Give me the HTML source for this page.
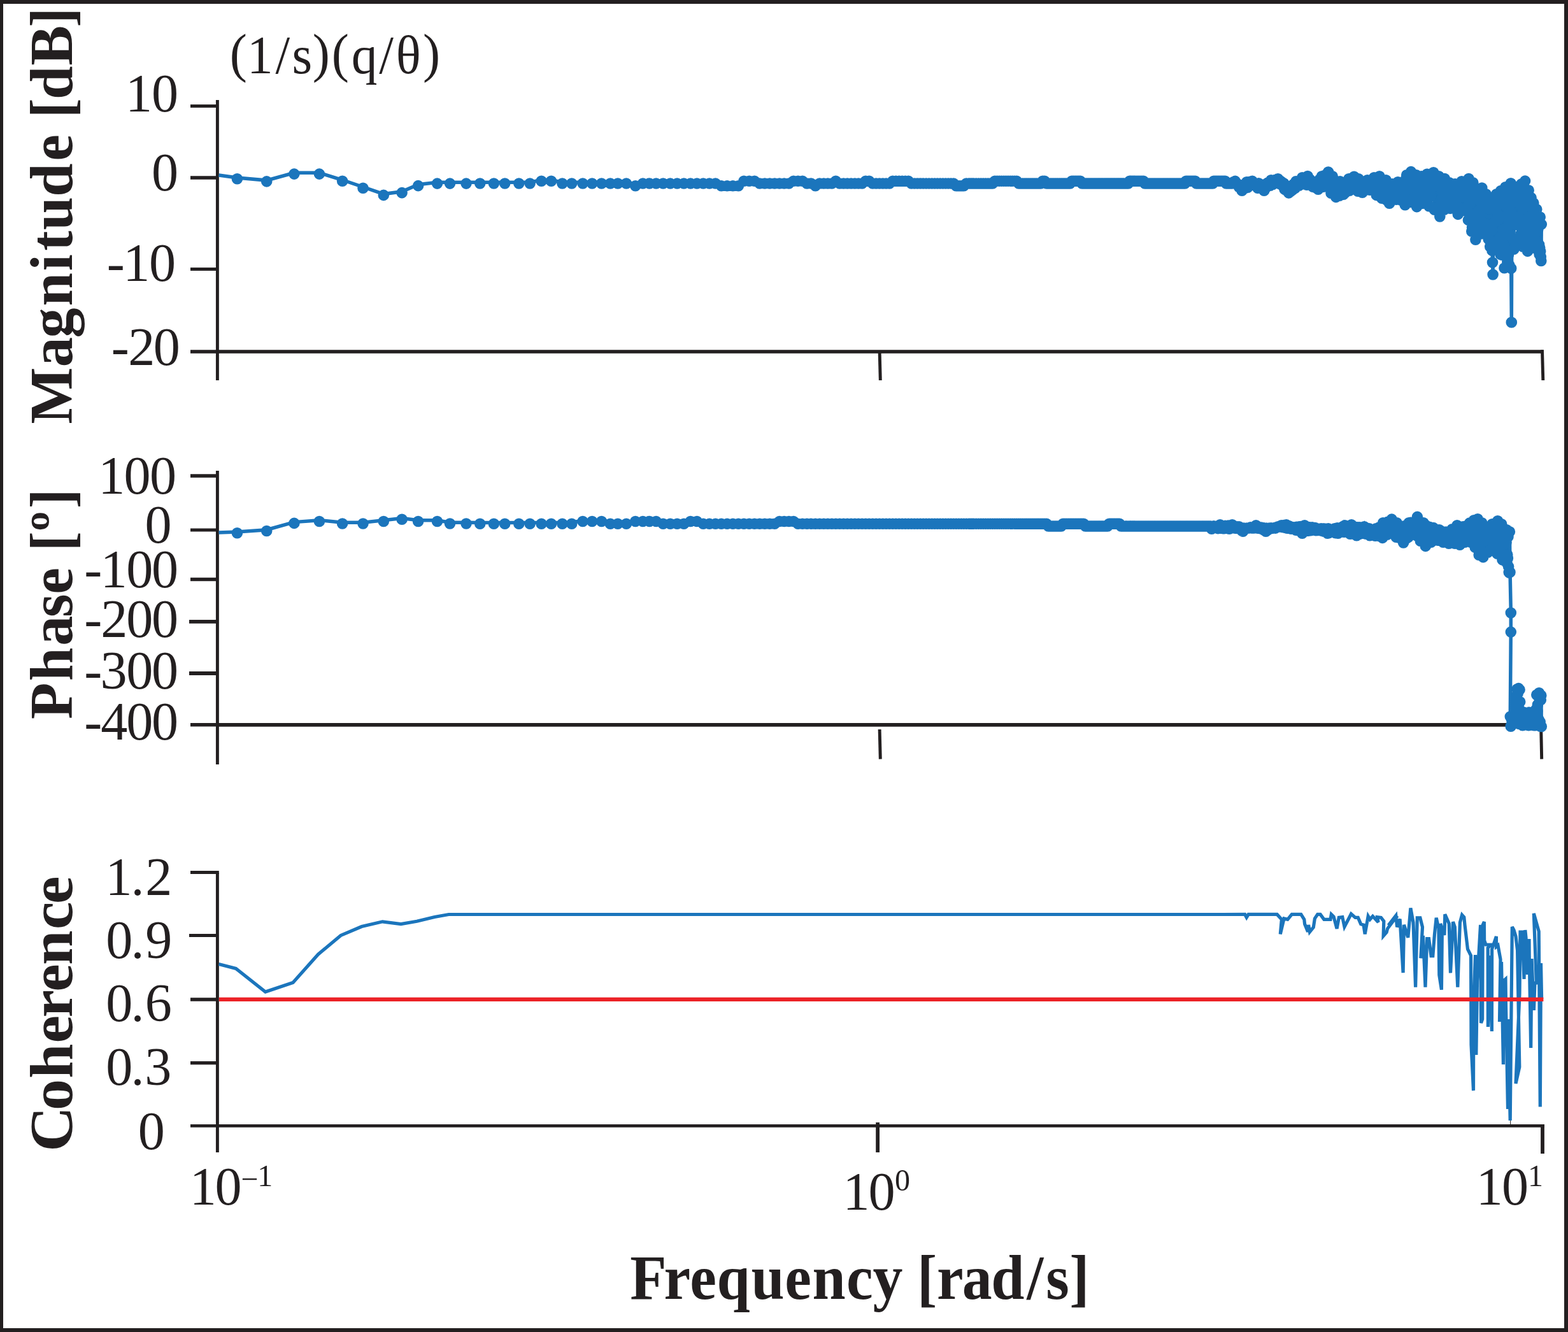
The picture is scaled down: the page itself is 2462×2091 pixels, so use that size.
<!DOCTYPE html>
<html lang="en">
<head>
<meta charset="utf-8">
<title>Frequency response (1/s)(q/θ): magnitude, phase and coherence</title>
<style>
html,body{margin:0;padding:0;background:#fff;}
body{width:2462px;height:2091px;overflow:hidden;}
svg{display:block;}
text{font-family:"Liberation Serif","DejaVu Serif",serif;fill:#231f20;white-space:pre;}
</style>
</head>
<body>
<svg xmlns="http://www.w3.org/2000/svg" width="2462" height="2091" viewBox="0 0 2462 2091">
<rect x="0" y="0" width="2462" height="2091" fill="#fff"/>
<g id="axes">
<line x1="341.4" y1="157" x2="341.4" y2="597" stroke="#231f20" stroke-width="4.9"/>
<line x1="299" y1="166.5" x2="341.4" y2="166.5" stroke="#231f20" stroke-width="4.8"/>
<line x1="299" y1="279" x2="341.4" y2="279" stroke="#231f20" stroke-width="5.6"/>
<line x1="299" y1="422.5" x2="341.4" y2="422.5" stroke="#231f20" stroke-width="5.2"/>
<line x1="299" y1="552" x2="2423.6" y2="552" stroke="#231f20" stroke-width="5.5"/>
<line x1="1381.1" y1="552" x2="1382.3" y2="597" stroke="#231f20" stroke-width="4.9"/>
<line x1="2421.5" y1="549.3" x2="2422.8" y2="597" stroke="#231f20" stroke-width="4.9"/>
<line x1="341.4" y1="739" x2="341.4" y2="1200" stroke="#231f20" stroke-width="4.9"/>
<line x1="299" y1="747" x2="341.4" y2="747" stroke="#231f20" stroke-width="5.6"/>
<line x1="299" y1="832" x2="341.4" y2="832" stroke="#231f20" stroke-width="5.2"/>
<line x1="299" y1="909.5" x2="341.4" y2="909.5" stroke="#231f20" stroke-width="5.6"/>
<line x1="297" y1="975.8" x2="341.4" y2="975.8" stroke="#231f20" stroke-width="5.7"/>
<line x1="297" y1="1057" x2="341.4" y2="1057" stroke="#231f20" stroke-width="5.8"/>
<line x1="299" y1="1137.7" x2="341.4" y2="1137.7" stroke="#231f20" stroke-width="5.4"/>
<line x1="341.4" y1="1137.8" x2="2420" y2="1137.8" stroke="#231f20" stroke-width="5.8"/>
<line x1="1381.1" y1="1145" x2="1382.3" y2="1191.6" stroke="#231f20" stroke-width="4.9"/>
<line x1="2419.6" y1="1140" x2="2420.7" y2="1191.6" stroke="#231f20" stroke-width="4.9"/>
<line x1="341.4" y1="1370" x2="341.4" y2="1809" stroke="#231f20" stroke-width="4.9"/>
<line x1="299" y1="1369.5" x2="343.8" y2="1369.5" stroke="#231f20" stroke-width="4.9"/>
<line x1="297" y1="1468.5" x2="341.4" y2="1468.5" stroke="#231f20" stroke-width="5.1"/>
<line x1="299" y1="1569" x2="341.4" y2="1569" stroke="#231f20" stroke-width="5.6"/>
<line x1="299" y1="1668.6" x2="341.4" y2="1668.6" stroke="#231f20" stroke-width="5.3"/>
<line x1="299" y1="1767.4" x2="2424.9" y2="1767.4" stroke="#231f20" stroke-width="4.8"/>
<line x1="1378.1" y1="1762" x2="1378.1" y2="1809" stroke="#231f20" stroke-width="5.8"/>
<line x1="2422" y1="1765" x2="2422" y2="1811" stroke="#231f20" stroke-width="5.8"/>
<line x1="2371.6" y1="1757" x2="2371.6" y2="1766" stroke="#231f20" stroke-width="1"/>
</g>
<g id="magnitude">
<path d="M343.6 275L372.4 279L418.7 283.1L461.9 271.3L501.4 271.3L537.6 282.5L570 293.5L602.3 304.6L631.1 300.8L656.6 289.8L686.5 286.3L706.5 286.3L732 286.3L753.7 286.2L775.4 286.2L792.7 286.2L814.8 286.2L832.1 286.2L850.1 282.5L865.5 282.5L882.9 286.2L897.7 286.2L915 286.2L929.7 286.2L944.5 286.2L958.3 286.2L970 286.2L983.4 286.2L997.7 290L1009.4 286.2L1019.8 286.2L1030.2 286.2L1041.2 286.2L1052.4 286.2L1063.2 286.2L1073.8 286.2L1084.2 286.2L1094.3 286.2L1104.2 286.2L1113.9 286.2L1123.4 286.2L1132.6 290L1141.7 290L1150.7 290L1159.4 290L1168 282.5L1176.4 282.5L1184.7 282.5L1192.8 286.2L1200.8 286.2L1208.6 286.2L1216.3 286.2L1223.9 286.2L1231.3 286.2L1238.7 286.2L1245.9 282.5L1253 282.5L1260 282.5L1266.9 286.2L1273.6 286.2L1280.3 290L1286.9 286.2L1293.4 286.2L1299.8 286.2L1306.1 286.2L1312.3 282.5L1318.4 286.2L1324.5 286.2L1330.5 286.2L1336.4 286.2L1342.2 286.2L1347.9 286.2L1353.6 286.2L1359.2 282.5L1364.7 282.5L1370.2 286.2L1375.6 286.2L1380.9 286.2L1386.2 286.2L1391.4 286.2L1396.6 286.2L1401.7 282.5L1406.7 282.5L1411.7 282.5L1416.6 282.5L1421.5 282.5L1426.3 282.5L1431.1 286.2L1435.8 286.2L1440.5 286.2L1445.1 286.2L1449.7 286.2L1454.2 286.2L1458.7 286.2L1463.2 286.2L1467.6 286.2L1471.9 286.2L1476.2 286.2L1480.5 286.2L1484.8 286.2L1489 286.2L1493.1 286.2L1497.2 286.2L1501.3 290L1505.4 290L1509.4 290L1513.3 290L1517.3 286.2L1521.2 286.2L1525.1 286.2L1528.9 286.2L1532.7 286.2L1536.5 286.2L1540.2 286.2L1543.9 286.2L1547.6 286.2L1551.3 286.2L1554.9 286.2L1558.5 286.2L1562.1 282.5L1565.6 282.5L1569.1 282.5L1572.6 282.5L1576.1 282.5L1579.5 282.5L1582.9 282.5L1586.3 282.5L1589.6 282.5L1593 282.5L1596.3 282.5L1599.6 286.2L1602.8 286.2L1606 286.2L1609.3 286.2L1612.4 286.2L1615.6 286.2L1618.8 286.2L1621.9 286.2L1625 286.2L1628.1 286.2L1631.1 286.2L1634.2 286.2L1637.2 282.5L1640.2 282.5L1643.2 286.2L1646.1 286.2L1649.1 286.2L1652 286.2L1654.9 286.2L1657.8 286.2L1660.6 286.2L1663.5 286.2L1666.3 286.2L1669.1 286.2L1671.9 286.2L1674.7 286.2L1677.5 286.2L1680.2 286.2L1682.9 282.5L1685.6 282.5L1688.3 282.5L1691 282.5L1693.7 282.5L1696.3 282.5L1698.9 286.2L1701.6 286.2L1704.2 286.2L1706.8 286.2L1709.3 286.2L1711.9 286.2L1714.4 286.2L1717 286.2L1719.5 286.2L1722 286.2L1724.5 286.2L1726.9 286.2L1729.4 286.2L1731.8 286.2L1734.3 286.2L1736.7 286.2L1739.1 286.2L1741.5 286.2L1743.9 286.2L1746.2 286.2L1748.6 286.2L1750.9 286.2L1753.3 286.2L1755.6 286.2L1757.9 286.2L1760.2 286.2L1762.5 286.2L1764.8 286.2L1767 286.2L1769.3 286.2L1771.5 286.2L1773.7 282.5L1776 282.5L1778.2 282.5L1780.4 282.5L1782.5 282.5L1784.7 282.5L1786.9 282.5L1789 282.5L1791.2 282.5L1793.3 282.5L1795.4 282.5L1797.6 286.2L1799.7 286.2L1801.8 286.2L1803.8 286.2L1805.9 286.2L1808 286.2L1810 286.2L1812.1 286.2L1814.1 286.2L1816.2 286.2L1818.2 286.2L1820.2 286.2L1822.2 286.2L1824.2 286.2L1826.2 286.2L1828.1 286.2L1830.1 286.2L1832.1 286.2L1834 286.2L1836 286.2L1837.9 286.2L1839.8 286.2L1841.7 286.2L1843.6 286.2L1845.5 286.2L1847.4 286.2L1849.3 286.2L1851.2 286.2L1853.1 286.2L1854.9 286.2L1856.8 286.2L1858.6 286.2L1860.5 286.2L1862.3 282.5L1864.1 282.5L1865.9 282.5L1867.8 282.5L1869.6 282.5L1871.3 282.5L1873.1 282.5L1874.9 282.5L1876.7 282.5L1878.5 286.2L1880.2 286.2L1882 286.2L1883.7 286.2L1885.5 286.2L1887.2 286.2L1888.9 286.2L1890.6 286.2L1892.3 286.2L1894.1 286.2L1895.8 286.2L1897.4 286.2L1899.1 286.2L1900.8 286.2L1902.5 286.2L1904.2 286.2L1905.8 282.5L1907.5 282.5L1909.1 282.5L1910.8 282.5L1912.4 282.5L1914 282.5L1915.7 282.5L1917.3 282.5L1918.9 282.5L1920.5 282.5L1922.1 282.5L1923.7 282.5L1925.3 286.2L1926.9 286.2L1928.5 286.2L1930.1 286.2L1931.6 286.2L1933.2 286.2L1934.8 286.2L1936.3 284.1L1937.9 283.7L1939.4 282.6L1940.9 285.2L1942.5 286.4L1944 287.4L1945.5 291.9L1947 291.1L1948.6 289L1950.1 297.4L1951.6 295.3L1953.1 293.1L1954.6 293.7L1956 286.2L1957.5 284L1959 292.4L1960.5 284L1961.9 283.8L1963.4 285L1964.9 284.8L1966.3 282.6L1967.8 287.4L1969.2 286.1L1970.7 289.6L1972.1 290L1973.5 290.6L1974.9 293.4L1976.4 286L1977.8 291.1L1979.2 288.1L1980.6 291.5L1982 290.8L1983.4 289L1984.8 297.4L1986.2 292.2L1987.6 293L1989 286.2L1990.3 285.3L1991.7 284.8L1993.1 284.8L1994.5 289.4L1995.8 281L1997.2 286.9L1998.5 287.7L1999.9 281.6L2001.2 284.7L2002.6 280.6L2003.9 284.1L2005.2 279.7L2006.6 279L2007.9 285.4L2009.2 286.8L2010.5 282.3L2011.9 287.1L2013.2 284.3L2014.5 290.5L2015.8 286L2017.1 295.4L2018.4 288.9L2019.7 295.8L2020.9 298L2022.2 296.8L2023.5 301.1L2024.8 291L2026.1 298.9L2027.3 297L2028.6 297L2029.9 296.1L2031.1 287.4L2032.4 293.5L2033.6 293.4L2034.9 283L2036.1 290.7L2037.4 283.6L2038.6 289.4L2039.8 289.4L2041.1 288.4L2042.3 285.1L2043.5 287.4L2044.7 277L2046 277.5L2047.2 278.1L2048.4 285.6L2049.6 276.8L2050.8 286.5L2052 288.4L2053.2 274.7L2054.4 280.2L2055.6 288.3L2056.8 279.8L2058 288.6L2059.2 288.8L2060.3 283L2061.5 291.4L2062.7 290.1L2063.9 291.8L2065 292.4L2066.2 287L2067.4 292.5L2068.5 287.6L2069.7 295.4L2070.8 288.7L2072 280L2073.1 286L2074.3 282.9L2075.4 275L2076.5 289.8L2077.7 291.4L2078.8 273.9L2079.9 274.1L2081.1 286.8L2082.2 287.5L2083.3 273.4L2084.4 289.4L2085.6 268.2L2086.7 271.4L2087.8 273.2L2088.9 281.6L2090 301.4L2091.1 300.1L2092.2 275L2093.3 278.7L2094.4 300.7L2095.5 286.4L2096.6 282L2097.7 307.6L2098.7 291.4L2099.8 301L2100.9 303.4L2102 287.8L2103.1 305.4L2104.1 283L2105.2 292.7L2106.3 286.7L2107.3 291.8L2108.4 300L2109.4 303.4L2110.5 287L2111.6 301.2L2112.6 297.9L2113.7 293.3L2114.7 298.7L2115.7 296.9L2116.8 292.5L2117.8 279L2118.9 297.4L2119.9 290.8L2120.9 279.2L2122 278.3L2123 282.1L2124 280.9L2125 294.4L2126.1 275.4L2127.1 294L2128.1 294.6L2129.1 278.6L2130.1 282.2L2131.1 279.3L2132.1 298.4L2133.1 279L2134.1 289.8L2135.1 284.4L2136.1 294.7L2137.1 283L2138.1 283L2139.1 300.4L2140.1 286.1L2141.1 283.8L2142.1 285.6L2143.1 285.9L2144 284.2L2145 282.7L2146 292.8L2147 281L2147.9 282.9L2148.9 283.8L2149.9 283.2L2150.8 296.4L2151.8 283.4L2152.8 288L2153.7 286.6L2154.7 293L2155.6 287.3L2156.6 286.3L2157.5 277L2158.5 285L2159.4 278.3L2160.4 278.9L2161.3 304.6L2162.3 295.1L2163.2 281.9L2164.2 287.5L2165.1 293.6L2166 275L2167 305.3L2167.9 282.1L2168.8 306.8L2169.7 309.4L2170.7 294.6L2171.6 305L2172.5 286.7L2173.4 295.7L2174.3 291.2L2175.3 282.9L2176.2 281L2177.1 312.3L2178 306.9L2178.9 291.5L2179.8 311.3L2180.7 312.7L2181.6 317.4L2182.5 294.1L2183.4 303.4L2184.3 288.5L2185.2 307.5L2186.1 287L2187 310.4L2187.9 302.7L2188.8 289.9L2189.6 287.8L2190.5 287.9L2191.4 302.6L2192.3 311.4L2193.2 305L2194.1 309.8L2194.9 284L2195.8 287.5L2196.7 287.5L2197.5 291.3L2198.4 286.4L2199.3 309.1L2200.1 312.6L2201 303L2201.9 310.5L2202.7 312.8L2203.6 285L2204.5 295.5L2205.3 301L2206.2 320L2207 282.6L2207.9 278.3L2208.7 273L2209.6 314.9L2210.4 314.9L2211.3 275.5L2212.1 313.9L2212.9 280.6L2213.8 288L2214.6 315.4L2215.5 267.8L2216.3 313.5L2217.1 312.3L2218 296.6L2218.8 315.5L2219.6 276.3L2220.4 311.2L2221.3 315.5L2222.1 318L2222.9 288.5L2223.7 273L2224.6 322.8L2225.4 287.7L2226.2 280.2L2227 276.8L2227.8 286.1L2228.6 313.7L2229.5 298.7L2230.3 313.7L2231.1 316.3L2231.9 275L2232.7 284.5L2233.5 312.1L2234.3 317.4L2235.1 304.9L2235.9 284.4L2236.7 294.5L2237.5 288.7L2238.3 281L2239.1 302.8L2239.9 279L2240.7 271.4L2241.5 317L2242.2 274.5L2243 281.8L2243.8 321.9L2244.6 299.7L2245.4 287.7L2246.2 274.2L2246.9 305.9L2247.7 291.9L2248.5 274.6L2249.3 277.6L2250.1 273L2250.8 269L2251.6 286.8L2252.4 327.4L2253.1 283.4L2253.9 278.9L2254.7 290.2L2255.4 285.6L2256.2 323.4L2257 278.4L2257.7 277.8L2258.5 278.4L2259.3 275L2260 284.8L2260.8 338.2L2261.5 280.8L2262.3 282.5L2263 317.3L2263.8 329.3L2264.5 309.3L2265.3 300.7L2266 286.9L2266.8 304.6L2267.5 327.4L2268.3 278.7L2269 323.9L2269.8 286.8L2270.5 321.1L2271.2 313.9L2272 288.7L2272.7 321.9L2273.5 321.6L2274.2 303.8L2274.9 293.1L2275.7 285L2276.4 295.3L2277.1 325.4L2277.8 306.2L2278.6 288.3L2279.3 323.9L2280 320.8L2280.7 305.6L2281.5 318.9L2282.2 295.5L2282.9 300.2L2283.6 307.2L2284.4 287L2285.1 305.2L2285.8 320.2L2286.5 316.6L2287.2 291L2287.9 289.5L2288.6 326.5L2289.3 334.6L2290.1 287.9L2290.8 307.4L2291.5 303.7L2292.2 325.2L2292.9 305.3L2293.6 306.9L2294.3 300L2295 283L2295.7 285.6L2296.4 304.2L2297.1 327.4L2297.8 288.5L2298.5 300.8L2299.2 305.4L2299.9 293L2300.6 325.5L2301.3 302.2L2302 329.4L2302.6 283.3L2303.3 283.7L2304 324.7L2304.7 311.3L2305.4 343.6L2306.1 278.7L2306.8 288.2L2307.4 285.6L2308.1 318.2L2308.8 334.7L2309.5 345.8L2310.2 308.3L2310.8 361.4L2311.5 355L2312.2 297.2L2312.9 285L2313.5 355.7L2314.2 354.8L2314.9 309.2L2315.6 349.6L2316.2 347.6L2316.9 374.4L2317.6 366.8L2318.2 310.3L2318.9 364.8L2319.6 332.6L2320.2 297L2320.9 359L2321.5 329.3L2322.2 338L2322.9 343.1L2323.5 338.9L2324.2 365.4L2324.8 357.1L2325.5 354.6L2326.1 316.7L2326.8 293.2L2327.5 326.4L2328.1 302.4L2328.8 319.8L2329.4 304.1L2330.1 352.6L2330.7 312L2331.4 363.6L2332 306.5L2332.6 349.3L2333.3 303L2333.9 309.4L2334.6 359.1L2335.2 311.1L2335.9 314.1L2336.5 366.4L2337.1 373.4L2337.8 326L2338.4 314L2339.1 376.2L2339.7 385.4L2340.3 357.1L2341 323.4L2341.6 380.6L2342.2 360.1L2342.9 391.4L2343.5 410.2L2344.1 429.2L2344.7 308.6L2345.4 314.5L2346 312.6L2346.6 381.5L2347.2 346.5L2347.9 387.4L2348.5 345.2L2349.1 324.9L2349.7 303L2350.4 377L2351 381.4L2351.6 378.2L2352.2 337.3L2352.8 342.3L2353.4 336.4L2354.1 381.5L2354.7 380.8L2355.3 381L2355.9 397.4L2356.5 297.7L2357.1 304.9L2357.7 395.2L2358.4 398.4L2359 303.3L2359.6 358.8L2360.2 315.5L2360.8 381.9L2361.4 361L2362 418.9L2362.6 367.4L2363.2 337.6L2363.8 292L2364.4 321.2L2365 304.9L2365.6 396.4L2366.2 358.3L2366.8 409.4L2367.4 365.3L2368 394L2368.6 397.5L2369.2 348.5L2369.8 414.4L2370.4 298.1L2371 305.3L2371.6 317.3L2372.2 286L2372.7 419.4L2373.3 504.2L2373.9 333L2374.5 347.3L2375.1 295.5L2375.7 304.5L2376.3 374.1L2376.9 389.4L2377.4 309.6L2378 291L2378.6 304L2379.2 350.8L2379.8 299.6L2380.4 300.5L2380.9 314.9L2381.5 308.2L2382.1 308.4L2382.7 347.9L2383.2 312.2L2383.8 294L2384.4 378.1L2385 339.6L2385.5 374.4L2386.1 352.9L2386.7 318.7L2387.3 320.1L2387.8 366L2388.4 294.1L2389 287L2389.5 356.1L2390.1 314.5L2390.7 325.9L2391.3 385.4L2391.8 350.6L2392.4 290.5L2392.9 315.9L2393.5 308.5L2394.1 301.7L2394.6 282.3L2395.2 382.9L2395.8 321L2396.3 307.2L2396.9 370.9L2397.4 354.3L2398 385.5L2398.6 392.6L2399.1 359.3L2399.7 383.1L2400.2 297L2400.8 306.4L2401.3 338.5L2401.9 343.9L2402.4 309.2L2403 385.4L2403.5 312L2404.1 308.6L2404.6 320.2L2405.2 379.1L2405.7 338.7L2406.3 326.1L2406.8 379.3L2407.4 383.4L2407.9 317L2408.5 353.8L2409 377L2409.6 353.2L2410.1 343.9L2410.7 382.4L2411.2 327.5L2411.7 363.1L2412.3 354.7L2412.8 326.8L2413.4 389.4L2413.9 377.2L2414.4 348.5L2415 357.4L2415.5 380.7L2416.1 347.9L2416.6 382.1L2417.1 397.4L2417.7 387L2418.2 339L2418.7 392.7L2419.3 401.4L2419.8 407.7L2420.3 350.3" fill="none" stroke="#1b75bc" stroke-width="5.5" stroke-linejoin="miter" stroke-miterlimit="3"/>
<path d="M372.4 280.8h0M418.7 284.9h0M461.9 273.1h0M501.4 273.1h0M537.6 284.3h0M570 295.3h0M602.3 306.4h0M631.1 302.6h0M656.6 291.6h0M686.5 288.1h0M706.5 288.1h0M732 288.1h0M753.7 288h0M775.4 288h0M792.7 288h0M814.8 288h0M832.1 288h0M850.1 284.3h0M865.5 284.3h0M882.9 288h0M897.7 288h0M915 288h0M929.7 288h0M944.5 288h0M958.3 288h0M970 288h0M983.4 288h0M997.7 291.8h0M1009.4 288h0M1019.8 288h0M1030.2 288h0M1041.2 288h0M1052.4 288h0M1063.2 288h0M1073.8 288h0M1084.2 288h0M1094.3 288h0M1104.2 288h0M1113.9 288h0M1123.4 288h0M1132.6 291.8h0M1141.7 291.8h0M1150.7 291.8h0M1159.4 291.8h0M1168 284.3h0M1176.4 284.3h0M1184.7 284.3h0M1192.8 288h0M1200.8 288h0M1208.6 288h0M1216.3 288h0M1223.9 288h0M1231.3 288h0M1238.7 288h0M1245.9 284.3h0M1253 284.3h0M1260 284.3h0M1266.9 288h0M1273.6 288h0M1280.3 291.8h0M1286.9 288h0M1293.4 288h0M1299.8 288h0M1306.1 288h0M1312.3 284.3h0M1318.4 288h0M1324.5 288h0M1330.5 288h0M1336.4 288h0M1342.2 288h0M1347.9 288h0M1353.6 288h0M1359.2 284.3h0M1364.7 284.3h0M1370.2 288h0M1375.6 288h0M1380.9 288h0M1386.2 288h0M1391.4 288h0M1396.6 288h0M1401.7 284.3h0M1406.7 284.3h0M1411.7 284.3h0M1416.6 284.3h0M1421.5 284.3h0M1426.3 284.3h0M1431.1 288h0M1435.8 288h0M1440.5 288h0M1445.1 288h0M1449.7 288h0M1454.2 288h0M1458.7 288h0M1463.2 288h0M1467.6 288h0M1471.9 288h0M1476.2 288h0M1480.5 288h0M1484.8 288h0M1489 288h0M1493.1 288h0M1497.2 288h0M1501.3 291.8h0M1505.4 291.8h0M1509.4 291.8h0M1513.3 291.8h0M1517.3 288h0M1521.2 288h0M1525.1 288h0M1528.9 288h0M1532.7 288h0M1536.5 288h0M1540.2 288h0M1543.9 288h0M1547.6 288h0M1551.3 288h0M1554.9 288h0M1558.5 288h0M1562.1 284.3h0M1565.6 284.3h0M1569.1 284.3h0M1572.6 284.3h0M1576.1 284.3h0M1579.5 284.3h0M1582.9 284.3h0M1586.3 284.3h0M1589.6 284.3h0M1593 284.3h0M1596.3 284.3h0M1599.6 288h0M1602.8 288h0M1606 288h0M1609.3 288h0M1612.4 288h0M1615.6 288h0M1618.8 288h0M1621.9 288h0M1625 288h0M1628.1 288h0M1631.1 288h0M1634.2 288h0M1637.2 284.3h0M1640.2 284.3h0M1643.2 288h0M1646.1 288h0M1649.1 288h0M1652 288h0M1654.9 288h0M1657.8 288h0M1660.6 288h0M1663.5 288h0M1666.3 288h0M1669.1 288h0M1671.9 288h0M1674.7 288h0M1677.5 288h0M1680.2 288h0M1682.9 284.3h0M1685.6 284.3h0M1688.3 284.3h0M1691 284.3h0M1693.7 284.3h0M1696.3 284.3h0M1698.9 288h0M1701.6 288h0M1704.2 288h0M1706.8 288h0M1709.3 288h0M1711.9 288h0M1714.4 288h0M1717 288h0M1719.5 288h0M1722 288h0M1724.5 288h0M1726.9 288h0M1729.4 288h0M1731.8 288h0M1734.3 288h0M1736.7 288h0M1739.1 288h0M1741.5 288h0M1743.9 288h0M1746.2 288h0M1748.6 288h0M1750.9 288h0M1753.3 288h0M1755.6 288h0M1757.9 288h0M1760.2 288h0M1762.5 288h0M1764.8 288h0M1767 288h0M1769.3 288h0M1771.5 288h0M1773.7 284.3h0M1776 284.3h0M1778.2 284.3h0M1780.4 284.3h0M1782.5 284.3h0M1784.7 284.3h0M1786.9 284.3h0M1789 284.3h0M1791.2 284.3h0M1793.3 284.3h0M1795.4 284.3h0M1797.6 288h0M1799.7 288h0M1801.8 288h0M1803.8 288h0M1805.9 288h0M1808 288h0M1810 288h0M1812.1 288h0M1814.1 288h0M1816.2 288h0M1818.2 288h0M1820.2 288h0M1822.2 288h0M1824.2 288h0M1826.2 288h0M1828.1 288h0M1830.1 288h0M1832.1 288h0M1834 288h0M1836 288h0M1837.9 288h0M1839.8 288h0M1841.7 288h0M1843.6 288h0M1845.5 288h0M1847.4 288h0M1849.3 288h0M1851.2 288h0M1853.1 288h0M1854.9 288h0M1856.8 288h0M1858.6 288h0M1860.5 288h0M1862.3 284.3h0M1864.1 284.3h0M1865.9 284.3h0M1867.8 284.3h0M1869.6 284.3h0M1871.3 284.3h0M1873.1 284.3h0M1874.9 284.3h0M1876.7 284.3h0M1878.5 288h0M1880.2 288h0M1882 288h0M1883.7 288h0M1885.5 288h0M1887.2 288h0M1888.9 288h0M1890.6 288h0M1892.3 288h0M1894.1 288h0M1895.8 288h0M1897.4 288h0M1899.1 288h0M1900.8 288h0M1902.5 288h0M1904.2 288h0M1905.8 284.3h0M1907.5 284.3h0M1909.1 284.3h0M1910.8 284.3h0M1912.4 284.3h0M1914 284.3h0M1915.7 284.3h0M1917.3 284.3h0M1918.9 284.3h0M1920.5 284.3h0M1922.1 284.3h0M1923.7 284.3h0M1925.3 288h0M1926.9 288h0M1928.5 288h0M1930.1 288h0M1931.6 288h0M1933.2 288h0M1934.8 288h0M1936.3 285.9h0M1937.9 285.5h0M1939.4 284.4h0M1940.9 287h0M1942.5 288.2h0M1944 289.2h0M1945.5 293.7h0M1947 292.9h0M1948.6 290.8h0M1950.1 299.2h0M1951.6 297.1h0M1953.1 294.9h0M1954.6 295.5h0M1956 288h0M1957.5 285.8h0M1959 294.2h0M1960.5 285.8h0M1961.9 285.6h0M1963.4 286.8h0M1964.9 286.6h0M1966.3 284.4h0M1967.8 289.2h0M1969.2 287.9h0M1970.7 291.4h0M1972.1 291.8h0M1973.5 292.4h0M1974.9 295.2h0M1976.4 287.8h0M1977.8 292.9h0M1979.2 289.9h0M1980.6 293.3h0M1982 292.6h0M1983.4 290.8h0M1984.8 299.2h0M1986.2 294h0M1987.6 294.8h0M1989 288h0M1990.3 287.1h0M1991.7 286.6h0M1993.1 286.6h0M1994.5 291.2h0M1995.8 282.8h0M1997.2 288.7h0M1998.5 289.5h0M1999.9 283.4h0M2001.2 286.5h0M2002.6 282.4h0M2003.9 285.9h0M2005.2 281.5h0M2006.6 280.8h0M2007.9 287.2h0M2009.2 288.6h0M2010.5 284.1h0M2011.9 288.9h0M2013.2 286.1h0M2014.5 292.3h0M2015.8 287.8h0M2017.1 297.2h0M2018.4 290.7h0M2019.7 297.6h0M2020.9 299.8h0M2022.2 298.6h0M2023.5 302.9h0M2024.8 292.8h0M2026.1 300.7h0M2027.3 298.8h0M2028.6 298.8h0M2029.9 297.9h0M2031.1 289.2h0M2032.4 295.3h0M2033.6 295.2h0M2034.9 284.8h0M2036.1 292.5h0M2037.4 285.4h0M2038.6 291.2h0M2039.8 291.2h0M2041.1 290.2h0M2042.3 286.9h0M2043.5 289.2h0M2044.7 278.8h0M2046 279.3h0M2047.2 279.9h0M2048.4 287.4h0M2049.6 278.6h0M2050.8 288.3h0M2052 290.2h0M2053.2 276.5h0M2054.4 282h0M2055.6 290.1h0M2056.8 281.6h0M2058 290.4h0M2059.2 290.6h0M2060.3 284.8h0M2061.5 293.2h0M2062.7 291.9h0M2063.9 293.6h0M2065 294.2h0M2066.2 288.8h0M2067.4 294.3h0M2068.5 289.4h0M2069.7 297.2h0M2070.8 290.5h0M2072 281.8h0M2073.1 287.8h0M2074.3 284.7h0M2075.4 276.8h0M2076.5 291.6h0M2077.7 293.2h0M2078.8 275.7h0M2079.9 275.9h0M2081.1 288.6h0M2082.2 289.3h0M2083.3 275.2h0M2084.4 291.2h0M2085.6 270h0M2086.7 273.2h0M2087.8 275h0M2088.9 283.4h0M2090 303.2h0M2091.1 301.9h0M2092.2 276.8h0M2093.3 280.5h0M2094.4 302.5h0M2095.5 288.2h0M2096.6 283.8h0M2097.7 309.4h0M2098.7 293.2h0M2099.8 302.8h0M2100.9 305.2h0M2102 289.6h0M2103.1 307.2h0M2104.1 284.8h0M2105.2 294.5h0M2106.3 288.5h0M2107.3 293.6h0M2108.4 301.8h0M2109.4 305.2h0M2110.5 288.8h0M2111.6 303h0M2112.6 299.7h0M2113.7 295.1h0M2114.7 300.5h0M2115.7 298.7h0M2116.8 294.3h0M2117.8 280.8h0M2118.9 299.2h0M2119.9 292.6h0M2120.9 281h0M2122 280.1h0M2123 283.9h0M2124 282.7h0M2125 296.2h0M2126.1 277.2h0M2127.1 295.8h0M2128.1 296.4h0M2129.1 280.4h0M2130.1 284h0M2131.1 281.1h0M2132.1 300.2h0M2133.1 280.8h0M2134.1 291.6h0M2135.1 286.2h0M2136.1 296.5h0M2137.1 284.8h0M2138.1 284.8h0M2139.1 302.2h0M2140.1 287.9h0M2141.1 285.6h0M2142.1 287.4h0M2143.1 287.7h0M2144 286h0M2145 284.5h0M2146 294.6h0M2147 282.8h0M2147.9 284.7h0M2148.9 285.6h0M2149.9 285h0M2150.8 298.2h0M2151.8 285.2h0M2152.8 289.8h0M2153.7 288.4h0M2154.7 294.8h0M2155.6 289.1h0M2156.6 288.1h0M2157.5 278.8h0M2158.5 286.8h0M2159.4 280.1h0M2160.4 280.7h0M2161.3 306.4h0M2162.3 296.9h0M2163.2 283.7h0M2164.2 289.3h0M2165.1 295.4h0M2166 276.8h0M2167 307.1h0M2167.9 283.9h0M2168.8 308.6h0M2169.7 311.2h0M2170.7 296.4h0M2171.6 306.8h0M2172.5 288.5h0M2173.4 297.5h0M2174.3 293h0M2175.3 284.7h0M2176.2 282.8h0M2177.1 314.1h0M2178 308.7h0M2178.9 293.3h0M2179.8 313.1h0M2180.7 314.5h0M2181.6 319.2h0M2182.5 295.9h0M2183.4 305.2h0M2184.3 290.3h0M2185.2 309.3h0M2186.1 288.8h0M2187 312.2h0M2187.9 304.5h0M2188.8 291.7h0M2189.6 289.6h0M2190.5 289.7h0M2191.4 304.4h0M2192.3 313.2h0M2193.2 306.8h0M2194.1 311.6h0M2194.9 285.8h0M2195.8 289.3h0M2196.7 289.3h0M2197.5 293.1h0M2198.4 288.2h0M2199.3 310.9h0M2200.1 314.4h0M2201 304.8h0M2201.9 312.3h0M2202.7 314.6h0M2203.6 286.8h0M2204.5 297.3h0M2205.3 302.8h0M2206.2 321.8h0M2207 284.4h0M2207.9 280.1h0M2208.7 274.8h0M2209.6 316.7h0M2210.4 316.7h0M2211.3 277.3h0M2212.1 315.7h0M2212.9 282.4h0M2213.8 289.8h0M2214.6 317.2h0M2215.5 269.6h0M2216.3 315.3h0M2217.1 314.1h0M2218 298.4h0M2218.8 317.3h0M2219.6 278.1h0M2220.4 313h0M2221.3 317.3h0M2222.1 319.8h0M2222.9 290.3h0M2223.7 274.8h0M2224.6 324.6h0M2225.4 289.5h0M2226.2 282h0M2227 278.6h0M2227.8 287.9h0M2228.6 315.5h0M2229.5 300.5h0M2230.3 315.5h0M2231.1 318.1h0M2231.9 276.8h0M2232.7 286.3h0M2233.5 313.9h0M2234.3 319.2h0M2235.1 306.7h0M2235.9 286.2h0M2236.7 296.3h0M2237.5 290.5h0M2238.3 282.8h0M2239.1 304.6h0M2239.9 280.8h0M2240.7 273.2h0M2241.5 318.8h0M2242.2 276.3h0M2243 283.6h0M2243.8 323.7h0M2244.6 301.5h0M2245.4 289.5h0M2246.2 276h0M2246.9 307.7h0M2247.7 293.7h0M2248.5 276.4h0M2249.3 279.4h0M2250.1 274.8h0M2250.8 270.8h0M2251.6 288.6h0M2252.4 329.2h0M2253.1 285.2h0M2253.9 280.7h0M2254.7 292h0M2255.4 287.4h0M2256.2 325.2h0M2257 280.2h0M2257.7 279.6h0M2258.5 280.2h0M2259.3 276.8h0M2260 286.6h0M2260.8 340h0M2261.5 282.6h0M2262.3 284.3h0M2263 319.1h0M2263.8 331.1h0M2264.5 311.1h0M2265.3 302.5h0M2266 288.7h0M2266.8 306.4h0M2267.5 329.2h0M2268.3 280.5h0M2269 325.7h0M2269.8 288.6h0M2270.5 322.9h0M2271.2 315.7h0M2272 290.5h0M2272.7 323.7h0M2273.5 323.4h0M2274.2 305.6h0M2274.9 294.9h0M2275.7 286.8h0M2276.4 297.1h0M2277.1 327.2h0M2277.8 308h0M2278.6 290.1h0M2279.3 325.7h0M2280 322.6h0M2280.7 307.4h0M2281.5 320.7h0M2282.2 297.3h0M2282.9 302h0M2283.6 309h0M2284.4 288.8h0M2285.1 307h0M2285.8 322h0M2286.5 318.4h0M2287.2 292.8h0M2287.9 291.3h0M2288.6 328.3h0M2289.3 336.4h0M2290.1 289.7h0M2290.8 309.2h0M2291.5 305.5h0M2292.2 327h0M2292.9 307.1h0M2293.6 308.7h0M2294.3 301.8h0M2295 284.8h0M2295.7 287.4h0M2296.4 306h0M2297.1 329.2h0M2297.8 290.3h0M2298.5 302.6h0M2299.2 307.2h0M2299.9 294.8h0M2300.6 327.3h0M2301.3 304h0M2302 331.2h0M2302.6 285.1h0M2303.3 285.5h0M2304 326.5h0M2304.7 313.1h0M2305.4 345.4h0M2306.1 280.5h0M2306.8 290h0M2307.4 287.4h0M2308.1 320h0M2308.8 336.5h0M2309.5 347.6h0M2310.2 310.1h0M2310.8 363.2h0M2311.5 356.8h0M2312.2 299h0M2312.9 286.8h0M2313.5 357.5h0M2314.2 356.6h0M2314.9 311h0M2315.6 351.4h0M2316.2 349.4h0M2316.9 376.2h0M2317.6 368.6h0M2318.2 312.1h0M2318.9 366.6h0M2319.6 334.4h0M2320.2 298.8h0M2320.9 360.8h0M2321.5 331.1h0M2322.2 339.8h0M2322.9 344.9h0M2323.5 340.7h0M2324.2 367.2h0M2324.8 358.9h0M2325.5 356.4h0M2326.1 318.5h0M2326.8 295h0M2327.5 328.2h0M2328.1 304.2h0M2328.8 321.6h0M2329.4 305.9h0M2330.1 354.4h0M2330.7 313.8h0M2331.4 365.4h0M2332 308.3h0M2332.6 351.1h0M2333.3 304.8h0M2333.9 311.2h0M2334.6 360.9h0M2335.2 312.9h0M2335.9 315.9h0M2336.5 368.2h0M2337.1 375.2h0M2337.8 327.8h0M2338.4 315.8h0M2339.1 378h0M2339.7 387.2h0M2340.3 358.9h0M2341 325.2h0M2341.6 382.4h0M2342.2 361.9h0M2342.9 393.2h0M2343.5 412h0M2344.1 431h0M2344.7 310.4h0M2345.4 316.3h0M2346 314.4h0M2346.6 383.3h0M2347.2 348.3h0M2347.9 389.2h0M2348.5 347h0M2349.1 326.7h0M2349.7 304.8h0M2350.4 378.8h0M2351 383.2h0M2351.6 380h0M2352.2 339.1h0M2352.8 344.1h0M2353.4 338.2h0M2354.1 383.3h0M2354.7 382.6h0M2355.3 382.8h0M2355.9 399.2h0M2356.5 299.5h0M2357.1 306.7h0M2357.7 397h0M2358.4 400.2h0M2359 305.1h0M2359.6 360.6h0M2360.2 317.3h0M2360.8 383.7h0M2361.4 362.8h0M2362 420.7h0M2362.6 369.2h0M2363.2 339.4h0M2363.8 293.8h0M2364.4 323h0M2365 306.7h0M2365.6 398.2h0M2366.2 360.1h0M2366.8 411.2h0M2367.4 367.1h0M2368 395.8h0M2368.6 399.3h0M2369.2 350.3h0M2369.8 416.2h0M2370.4 299.9h0M2371 307.1h0M2371.6 319.1h0M2372.2 287.8h0M2372.7 421.2h0M2373.3 506h0M2373.9 334.8h0M2374.5 349.1h0M2375.1 297.3h0M2375.7 306.3h0M2376.3 375.9h0M2376.9 391.2h0M2377.4 311.4h0M2378 292.8h0M2378.6 305.8h0M2379.2 352.6h0M2379.8 301.4h0M2380.4 302.3h0M2380.9 316.7h0M2381.5 310h0M2382.1 310.2h0M2382.7 349.7h0M2383.2 314h0M2383.8 295.8h0M2384.4 379.9h0M2385 341.4h0M2385.5 376.2h0M2386.1 354.7h0M2386.7 320.5h0M2387.3 321.9h0M2387.8 367.8h0M2388.4 295.9h0M2389 288.8h0M2389.5 357.9h0M2390.1 316.3h0M2390.7 327.7h0M2391.3 387.2h0M2391.8 352.4h0M2392.4 292.3h0M2392.9 317.7h0M2393.5 310.3h0M2394.1 303.5h0M2394.6 284.1h0M2395.2 384.7h0M2395.8 322.8h0M2396.3 309h0M2396.9 372.7h0M2397.4 356.1h0M2398 387.3h0M2398.6 394.4h0M2399.1 361.1h0M2399.7 384.9h0M2400.2 298.8h0M2400.8 308.2h0M2401.3 340.3h0M2401.9 345.7h0M2402.4 311h0M2403 387.2h0M2403.5 313.8h0M2404.1 310.4h0M2404.6 322h0M2405.2 380.9h0M2405.7 340.5h0M2406.3 327.9h0M2406.8 381.1h0M2407.4 385.2h0M2407.9 318.8h0M2408.5 355.6h0M2409 378.8h0M2409.6 355h0M2410.1 345.7h0M2410.7 384.2h0M2411.2 329.3h0M2411.7 364.9h0M2412.3 356.5h0M2412.8 328.6h0M2413.4 391.2h0M2413.9 379h0M2414.4 350.3h0M2415 359.2h0M2415.5 382.5h0M2416.1 349.7h0M2416.6 383.9h0M2417.1 399.2h0M2417.7 388.8h0M2418.2 340.8h0M2418.7 394.5h0M2419.3 403.2h0M2419.8 409.5h0M2420.3 352.1h0" fill="none" stroke="#1b75bc" stroke-width="17.6" stroke-linecap="round"/>
</g>
<g id="phase">
<path d="M343.6 835.9L372.4 835L418.7 831.7L461.9 819.6L501.4 816.7L537.6 820.2L570 820.2L602.3 816.7L631.1 813.4L656.6 816.7L686.5 816.7L706.5 820.2L732 820.2L753.7 820.5L775.4 820.5L792.7 820.5L814.8 820.5L832.1 820.5L850.1 820.5L865.5 820.5L882.9 820.5L897.7 820.5L915 816.7L929.7 816.7L944.5 816.7L958.3 820.5L970 820.5L983.4 820.5L997.7 816.7L1009.4 816.7L1019.8 816.7L1030.2 816.7L1041.2 820.5L1052.4 820.5L1063.2 820.5L1073.8 820.5L1084.2 816.7L1094.3 816.7L1104.2 820.5L1113.9 820.5L1123.4 820.5L1132.6 820.5L1141.7 820.5L1150.7 820.5L1159.4 820.5L1168 820.5L1176.4 820.5L1184.7 820.5L1192.8 820.5L1200.8 820.5L1208.6 820.5L1216.3 820.5L1223.9 816.7L1231.3 816.7L1238.7 816.7L1245.9 816.7L1253 820.5L1260 820.5L1266.9 820.5L1273.6 820.5L1280.3 820.5L1286.9 820.5L1293.4 820.5L1299.8 820.5L1306.1 820.5L1312.3 820.5L1318.4 820.5L1324.5 820.5L1330.5 820.5L1336.4 820.5L1342.2 820.5L1347.9 820.5L1353.6 820.5L1359.2 820.5L1364.7 820.5L1370.2 820.5L1375.6 820.5L1380.9 820.5L1386.2 820.5L1391.4 820.5L1396.6 820.5L1401.7 820.5L1406.7 820.5L1411.7 820.5L1416.6 820.5L1421.5 820.5L1426.3 820.5L1431.1 820.5L1435.8 820.5L1440.5 820.5L1445.1 820.5L1449.7 820.5L1454.2 820.5L1458.7 820.5L1463.2 820.5L1467.6 820.5L1471.9 820.5L1476.2 820.5L1480.5 820.5L1484.8 820.5L1489 820.5L1493.1 820.5L1497.2 820.5L1501.3 820.5L1505.4 820.5L1509.4 820.5L1513.3 820.5L1517.3 820.5L1521.2 820.5L1525.1 820.5L1528.9 820.5L1532.7 820.5L1536.5 820.5L1540.2 820.5L1543.9 820.5L1547.6 820.5L1551.3 820.5L1554.9 820.5L1558.5 820.5L1562.1 820.5L1565.6 820.5L1569.1 820.5L1572.6 820.5L1576.1 820.5L1579.5 820.5L1582.9 820.5L1586.3 820.5L1589.6 820.5L1593 820.5L1596.3 820.5L1599.6 820.5L1602.8 820.5L1606 820.5L1609.3 820.5L1612.4 820.5L1615.6 820.5L1618.8 820.5L1621.9 820.5L1625 820.5L1628.1 820.5L1631.1 820.5L1634.2 820.5L1637.2 820.5L1640.2 820.5L1643.2 820.5L1646.1 824.2L1649.1 824.2L1652 824.2L1654.9 824.2L1657.8 824.2L1660.6 824.2L1663.5 824.2L1666.3 824.2L1669.1 820.5L1671.9 820.5L1674.7 820.5L1677.5 820.5L1680.2 820.5L1682.9 820.5L1685.6 820.5L1688.3 820.5L1691 820.5L1693.7 820.5L1696.3 820.5L1698.9 820.5L1701.6 820.5L1704.2 824.2L1706.8 824.2L1709.3 824.2L1711.9 824.2L1714.4 824.2L1717 824.2L1719.5 824.2L1722 824.2L1724.5 824.2L1726.9 824.2L1729.4 824.2L1731.8 824.2L1734.3 824.2L1736.7 824.2L1739.1 824.2L1741.5 820.5L1743.9 820.5L1746.2 820.5L1748.6 820.5L1750.9 820.5L1753.3 820.5L1755.6 820.5L1757.9 820.5L1760.2 824.2L1762.5 824.2L1764.8 824.2L1767 824.2L1769.3 824.2L1771.5 824.2L1773.7 824.2L1776 824.2L1778.2 824.2L1780.4 824.2L1782.5 824.2L1784.7 824.2L1786.9 824.2L1789 824.2L1791.2 824.2L1793.3 824.2L1795.4 824.2L1797.6 824.2L1799.7 824.2L1801.8 824.2L1803.8 824.2L1805.9 824.2L1808 824.2L1810 824.2L1812.1 824.2L1814.1 824.2L1816.2 824.2L1818.2 824.2L1820.2 824.2L1822.2 824.2L1824.2 824.2L1826.2 824.2L1828.1 824.2L1830.1 824.2L1832.1 824.2L1834 824.2L1836 824.2L1837.9 824.2L1839.8 824.2L1841.7 824.2L1843.6 824.2L1845.5 824.2L1847.4 824.2L1849.3 824.2L1851.2 824.2L1853.1 824.2L1854.9 824.2L1856.8 824.2L1858.6 824.2L1860.5 824.2L1862.3 824.2L1864.1 824.2L1865.9 824.2L1867.8 824.2L1869.6 824.2L1871.3 824.2L1873.1 824.2L1874.9 824.2L1876.7 824.2L1878.5 824.2L1880.2 824.2L1882 824.2L1883.7 824.2L1885.5 824.2L1887.2 824.2L1888.9 824.2L1890.6 824.2L1892.3 824.2L1894.1 824.2L1895.8 824.2L1897.4 824.2L1899.1 824.2L1900.8 824.2L1902.5 828.4L1904.2 824.4L1905.8 824L1907.5 825.3L1909.1 826.3L1910.8 825.4L1912.4 827.8L1914 827.5L1915.7 822L1917.3 827.4L1918.9 825.6L1920.5 828L1922.1 827.9L1923.7 823.5L1925.3 825.9L1926.9 825.1L1928.5 823.3L1930.1 828.4L1931.6 827.8L1933.2 823L1934.8 822L1936.3 824L1937.9 824.5L1939.4 827.4L1940.9 826.5L1942.5 825L1944 827.8L1945.5 825L1947 826.8L1948.6 829.8L1950.1 831.5L1951.6 832.4L1953.1 827.2L1954.6 827.8L1956 828.3L1957.5 827.3L1959 827.4L1960.5 827L1961.9 827.1L1963.4 826.1L1964.9 827.1L1966.3 827.2L1967.8 827.2L1969.2 827.2L1970.7 826.6L1972.1 823L1973.5 824L1974.9 827.4L1976.4 826.8L1977.8 827.6L1979.2 828.1L1980.6 826.3L1982 827.8L1983.4 829.8L1984.8 827L1986.2 827.7L1987.6 832.4L1989 827.6L1990.3 830.5L1991.7 828.5L1993.1 827.2L1994.5 827.8L1995.8 827.1L1997.2 827.7L1998.5 827.4L1999.9 827L2001.2 827.1L2002.6 827.3L2003.9 825.9L2005.2 825.8L2006.6 825L2007.9 824.8L2009.2 824.2L2010.5 825.2L2011.9 823L2013.2 823.7L2014.5 826L2015.8 822.8L2017.1 825.7L2018.4 826.7L2019.7 822L2020.9 827.4L2022.2 827.1L2023.5 823.7L2024.8 824.2L2026.1 828L2027.3 828.5L2028.6 827.1L2029.9 826L2031.1 827.5L2032.4 826.2L2033.6 829.2L2034.9 830.4L2036.1 825.5L2037.4 828.7L2038.6 830L2039.8 825.1L2041.1 825.4L2042.3 824.8L2043.5 826.6L2044.7 835.4L2046 826.2L2047.2 824.5L2048.4 823L2049.6 831.7L2050.8 830.8L2052 829.3L2053.2 825.6L2054.4 831.4L2055.6 827.7L2056.8 826L2058 830.9L2059.2 827.6L2060.3 826L2061.5 828.3L2062.7 826.8L2063.9 830.4L2065 826.7L2066.2 831L2067.4 828.6L2068.5 828.8L2069.7 830.6L2070.8 828.8L2072 829.4L2073.1 829.5L2074.3 828.1L2075.4 831.4L2076.5 830.4L2077.7 828.2L2078.8 832.4L2079.9 828.2L2081.1 832.9L2082.2 829.5L2083.3 833.9L2084.4 835.4L2085.6 828L2086.7 834.8L2087.8 829.6L2088.9 831.8L2090 829.6L2091.1 831.1L2092.2 830.9L2093.3 831.1L2094.4 833.5L2095.5 828L2096.6 834.8L2097.7 827.9L2098.7 827.9L2099.8 827L2100.9 835.4L2102 828.7L2103.1 829.1L2104.1 832.5L2105.2 832L2106.3 831.4L2107.3 831.6L2108.4 824.8L2109.4 830.7L2110.5 833.4L2111.6 823L2112.6 824.4L2113.7 829L2114.7 827.9L2115.7 832.7L2116.8 832.6L2117.8 834.7L2118.9 833.9L2119.9 836.4L2120.9 823.7L2122 822L2123 835.9L2124 830.8L2125 836.4L2126.1 829.3L2127.1 832.1L2128.1 825.4L2129.1 835.9L2130.1 839L2131.1 836L2132.1 825.9L2133.1 829.4L2134.1 836.8L2135.1 826L2136.1 834.4L2137.1 833L2138.1 835L2139.1 826.6L2140.1 835.4L2141.1 827.3L2142.1 825L2143.1 828.3L2144 834.3L2145 836.4L2146 827.3L2147 830.1L2147.9 836.9L2148.9 828.3L2149.9 828L2150.8 839L2151.8 838.4L2152.8 831.9L2153.7 838L2154.7 830.3L2155.6 834.1L2156.6 830.6L2157.5 832.6L2158.5 829.9L2159.4 839.4L2160.4 828L2161.3 832.2L2162.3 836.4L2163.2 838.9L2164.2 839.4L2165.1 826.2L2166 838.5L2167 834L2167.9 836.6L2168.8 828.4L2169.7 830.5L2170.7 842.6L2171.6 819L2172.5 834.5L2173.4 825.2L2174.3 822.3L2175.3 819.2L2176.2 833.4L2177.1 818.7L2178 837.4L2178.9 817.4L2179.8 834.8L2180.7 829.4L2181.6 818.5L2182.5 817.1L2183.4 834.4L2184.3 835.4L2185.2 813.3L2186.1 817.9L2187 824.7L2187.9 834.3L2188.8 830L2189.6 837.5L2190.5 833.8L2191.4 831.3L2192.3 841.4L2193.2 819L2194.1 833.6L2194.9 838.8L2195.8 837.8L2196.7 827.7L2197.5 835.3L2198.4 842.9L2199.3 826.1L2200.1 833L2201 825.7L2201.9 824.7L2202.7 832.5L2203.6 850.2L2204.5 832.5L2205.3 824.6L2206.2 823.8L2207 828.9L2207.9 835.9L2208.7 843.3L2209.6 823.1L2210.4 834.9L2211.3 841.4L2212.1 819L2212.9 839.6L2213.8 832.6L2214.6 818.6L2215.5 821.2L2216.3 821.4L2217.1 822L2218 833.7L2218.8 835.5L2219.6 822.4L2220.4 836L2221.3 837.4L2222.1 824.7L2222.9 823.8L2223.7 837.7L2224.6 839.2L2225.4 809.6L2226.2 839.7L2227 821.4L2227.8 836.7L2228.6 823.9L2229.5 819.8L2230.3 847.4L2231.1 830.4L2231.9 844.5L2232.7 840.2L2233.5 819.6L2234.3 844.7L2235.1 819L2235.9 836.6L2236.7 834.7L2237.5 825.4L2238.3 855.6L2239.1 823.1L2239.9 852.5L2240.7 826.6L2241.5 834.7L2242.2 824.9L2243 849L2243.8 830.5L2244.6 825.4L2245.4 831.4L2246.2 847.8L2246.9 849.4L2247.7 826.6L2248.5 847L2249.3 828.7L2250.1 846.9L2250.8 826.8L2251.6 830.1L2252.4 831.8L2253.1 828.8L2253.9 834.1L2254.7 837.3L2255.4 843.1L2256.2 835.9L2257 830L2257.7 846.4L2258.5 831.1L2259.3 844.5L2260 830L2260.8 833.8L2261.5 846.6L2262.3 832.9L2263 846.1L2263.8 845.8L2264.5 847.7L2265.3 836.6L2266 849.4L2266.8 833.2L2267.5 848.7L2268.3 834.9L2269 835.9L2269.8 840L2270.5 833.3L2271.2 835.6L2272 838.4L2272.7 849L2273.5 834.8L2274.2 845.3L2274.9 851.4L2275.7 840.8L2276.4 832.3L2277.1 843.3L2277.8 832.3L2278.6 849.8L2279.3 845.4L2280 829L2280.7 836.4L2281.5 830.7L2282.2 847.8L2282.9 830.2L2283.6 829.9L2284.4 851.4L2285.1 849L2285.8 835.1L2286.5 825.7L2287.2 833.4L2287.9 823L2288.6 837.6L2289.3 827.3L2290.1 837.3L2290.8 836.9L2291.5 834.8L2292.2 853.4L2292.9 828.3L2293.6 827.5L2294.3 846.5L2295 834.5L2295.7 828.1L2296.4 830.7L2297.1 825L2297.8 826.5L2298.5 847.7L2299.2 836.5L2299.9 849.4L2300.6 845.5L2301.3 836L2302 823.9L2302.6 826.6L2303.3 847.1L2304 844.1L2304.7 840.1L2305.4 822.9L2306.1 836.3L2306.8 846L2307.4 819.3L2308.1 843.7L2308.8 847.4L2309.5 849.4L2310.2 819.4L2310.8 822.6L2311.5 823.7L2312.2 848.8L2312.9 831.4L2313.5 827.7L2314.2 815L2314.9 838.4L2315.6 854.1L2316.2 857.4L2316.9 850L2317.6 823.2L2318.2 840.1L2318.9 821.4L2319.6 849.9L2320.2 813L2320.9 845.7L2321.5 842.9L2322.2 869.4L2322.9 849.8L2323.5 831.2L2324.2 852.5L2324.8 828.2L2325.5 864.5L2326.1 823.1L2326.8 819L2327.5 868.9L2328.1 825.9L2328.8 872.8L2329.4 834.7L2330.1 867.4L2330.7 833.7L2331.4 832.6L2332 840.3L2332.6 829.4L2333.3 830.3L2333.9 841L2334.6 832.1L2335.2 830L2335.9 865.4L2336.5 845.2L2337.1 844.9L2337.8 829.3L2338.4 838L2339.1 838.1L2339.7 837.5L2340.3 826.5L2341 847.6L2341.6 830.3L2342.2 836L2342.9 821L2343.5 848.5L2344.1 859.4L2344.7 858L2345.4 849.4L2346 851.5L2346.6 859.3L2347.2 841.7L2347.9 850.1L2348.5 821.1L2349.1 825.1L2349.7 830.8L2350.4 822.1L2351 867.4L2351.6 816L2352.2 835L2352.8 860.8L2353.4 820.7L2354.1 850L2354.7 823.2L2355.3 862.7L2355.9 869.1L2356.5 837.7L2357.1 833.9L2357.7 821L2358.4 825.4L2359 877.1L2359.6 836.8L2360.2 826.9L2360.8 827.6L2361.4 872.5L2362 836.8L2362.6 836.7L2363.2 838L2363.8 879.4L2364.4 851.6L2365 849.6L2365.6 830L2366.2 882.3L2366.8 868.9L2367.4 874.5L2368 840.7L2368.6 887.7L2369.2 896.4L2369.8 897.3L2370.4 833L2371 896.4L2372.3 960.2L2372.3 990.3L2371.3 1123.2L2372.2 1138.4L2372.7 1123L2373.3 1127.3L2373.9 1134.1L2374.5 1129.2L2375.1 1125.9L2375.7 1131.6L2376.3 1126.2L2376.9 1123L2377.4 1119.5L2378 1114.7L2378.6 1105L2379.2 1097L2379.8 1128.2L2380.4 1113.5L2380.9 1094.8L2381.5 1091.5L2382.1 1080L2382.7 1086.3L2383.2 1086.7L2383.8 1105.4L2384.4 1078.8L2385 1134.6L2385.5 1111.2L2386.1 1081L2386.7 1099.9L2387.3 1115L2387.8 1128.7L2388.4 1134.4L2389 1117.1L2389.5 1121.8L2390.1 1135.2L2390.7 1136.9L2391.3 1117.2L2391.8 1124.2L2392.4 1136.4L2392.9 1116.4L2393.5 1123.9L2394.1 1119.2L2394.6 1118.3L2395.2 1133.8L2395.8 1126L2396.3 1135.5L2396.9 1123.1L2397.4 1128.8L2398 1118.6L2398.6 1136.3L2399.1 1134.9L2399.7 1130.3L2400.2 1137L2400.8 1129.7L2401.3 1116.5L2401.9 1117.3L2402.4 1135.4L2403 1117.8L2403.5 1134.5L2404.1 1134.2L2404.6 1122.4L2405.2 1132.9L2405.7 1135L2406.3 1136.6L2406.8 1135.4L2407.4 1135.2L2407.9 1116.8L2408.5 1136.9L2409 1125.4L2409.6 1134.8L2410.1 1120.1L2410.7 1137L2411.2 1115L2411.7 1112L2412.3 1135.9L2412.8 1089L2413.4 1124.9L2413.9 1114.4L2414.4 1104.4L2415 1134.6L2415.5 1092L2416.1 1127.6L2416.6 1086L2417.1 1133.3L2417.7 1134.4L2418.2 1131.4L2418.7 1138.4L2419.3 1097L2419.8 1090L2420.3 1138.7" fill="none" stroke="#1b75bc" stroke-width="5.5" stroke-linejoin="miter" stroke-miterlimit="3"/>
<path d="M372.4 836.8h0M418.7 833.5h0M461.9 821.4h0M501.4 818.5h0M537.6 822h0M570 822h0M602.3 818.5h0M631.1 815.2h0M656.6 818.5h0M686.5 818.5h0M706.5 822h0M732 822h0M753.7 822.3h0M775.4 822.3h0M792.7 822.3h0M814.8 822.3h0M832.1 822.3h0M850.1 822.3h0M865.5 822.3h0M882.9 822.3h0M897.7 822.3h0M915 818.5h0M929.7 818.5h0M944.5 818.5h0M958.3 822.3h0M970 822.3h0M983.4 822.3h0M997.7 818.5h0M1009.4 818.5h0M1019.8 818.5h0M1030.2 818.5h0M1041.2 822.3h0M1052.4 822.3h0M1063.2 822.3h0M1073.8 822.3h0M1084.2 818.5h0M1094.3 818.5h0M1104.2 822.3h0M1113.9 822.3h0M1123.4 822.3h0M1132.6 822.3h0M1141.7 822.3h0M1150.7 822.3h0M1159.4 822.3h0M1168 822.3h0M1176.4 822.3h0M1184.7 822.3h0M1192.8 822.3h0M1200.8 822.3h0M1208.6 822.3h0M1216.3 822.3h0M1223.9 818.5h0M1231.3 818.5h0M1238.7 818.5h0M1245.9 818.5h0M1253 822.3h0M1260 822.3h0M1266.9 822.3h0M1273.6 822.3h0M1280.3 822.3h0M1286.9 822.3h0M1293.4 822.3h0M1299.8 822.3h0M1306.1 822.3h0M1312.3 822.3h0M1318.4 822.3h0M1324.5 822.3h0M1330.5 822.3h0M1336.4 822.3h0M1342.2 822.3h0M1347.9 822.3h0M1353.6 822.3h0M1359.2 822.3h0M1364.7 822.3h0M1370.2 822.3h0M1375.6 822.3h0M1380.9 822.3h0M1386.2 822.3h0M1391.4 822.3h0M1396.6 822.3h0M1401.7 822.3h0M1406.7 822.3h0M1411.7 822.3h0M1416.6 822.3h0M1421.5 822.3h0M1426.3 822.3h0M1431.1 822.3h0M1435.8 822.3h0M1440.5 822.3h0M1445.1 822.3h0M1449.7 822.3h0M1454.2 822.3h0M1458.7 822.3h0M1463.2 822.3h0M1467.6 822.3h0M1471.9 822.3h0M1476.2 822.3h0M1480.5 822.3h0M1484.8 822.3h0M1489 822.3h0M1493.1 822.3h0M1497.2 822.3h0M1501.3 822.3h0M1505.4 822.3h0M1509.4 822.3h0M1513.3 822.3h0M1517.3 822.3h0M1521.2 822.3h0M1525.1 822.3h0M1528.9 822.3h0M1532.7 822.3h0M1536.5 822.3h0M1540.2 822.3h0M1543.9 822.3h0M1547.6 822.3h0M1551.3 822.3h0M1554.9 822.3h0M1558.5 822.3h0M1562.1 822.3h0M1565.6 822.3h0M1569.1 822.3h0M1572.6 822.3h0M1576.1 822.3h0M1579.5 822.3h0M1582.9 822.3h0M1586.3 822.3h0M1589.6 822.3h0M1593 822.3h0M1596.3 822.3h0M1599.6 822.3h0M1602.8 822.3h0M1606 822.3h0M1609.3 822.3h0M1612.4 822.3h0M1615.6 822.3h0M1618.8 822.3h0M1621.9 822.3h0M1625 822.3h0M1628.1 822.3h0M1631.1 822.3h0M1634.2 822.3h0M1637.2 822.3h0M1640.2 822.3h0M1643.2 822.3h0M1646.1 826h0M1649.1 826h0M1652 826h0M1654.9 826h0M1657.8 826h0M1660.6 826h0M1663.5 826h0M1666.3 826h0M1669.1 822.3h0M1671.9 822.3h0M1674.7 822.3h0M1677.5 822.3h0M1680.2 822.3h0M1682.9 822.3h0M1685.6 822.3h0M1688.3 822.3h0M1691 822.3h0M1693.7 822.3h0M1696.3 822.3h0M1698.9 822.3h0M1701.6 822.3h0M1704.2 826h0M1706.8 826h0M1709.3 826h0M1711.9 826h0M1714.4 826h0M1717 826h0M1719.5 826h0M1722 826h0M1724.5 826h0M1726.9 826h0M1729.4 826h0M1731.8 826h0M1734.3 826h0M1736.7 826h0M1739.1 826h0M1741.5 822.3h0M1743.9 822.3h0M1746.2 822.3h0M1748.6 822.3h0M1750.9 822.3h0M1753.3 822.3h0M1755.6 822.3h0M1757.9 822.3h0M1760.2 826h0M1762.5 826h0M1764.8 826h0M1767 826h0M1769.3 826h0M1771.5 826h0M1773.7 826h0M1776 826h0M1778.2 826h0M1780.4 826h0M1782.5 826h0M1784.7 826h0M1786.9 826h0M1789 826h0M1791.2 826h0M1793.3 826h0M1795.4 826h0M1797.6 826h0M1799.7 826h0M1801.8 826h0M1803.8 826h0M1805.9 826h0M1808 826h0M1810 826h0M1812.1 826h0M1814.1 826h0M1816.2 826h0M1818.2 826h0M1820.2 826h0M1822.2 826h0M1824.2 826h0M1826.2 826h0M1828.1 826h0M1830.1 826h0M1832.1 826h0M1834 826h0M1836 826h0M1837.9 826h0M1839.8 826h0M1841.7 826h0M1843.6 826h0M1845.5 826h0M1847.4 826h0M1849.3 826h0M1851.2 826h0M1853.1 826h0M1854.9 826h0M1856.8 826h0M1858.6 826h0M1860.5 826h0M1862.3 826h0M1864.1 826h0M1865.9 826h0M1867.8 826h0M1869.6 826h0M1871.3 826h0M1873.1 826h0M1874.9 826h0M1876.7 826h0M1878.5 826h0M1880.2 826h0M1882 826h0M1883.7 826h0M1885.5 826h0M1887.2 826h0M1888.9 826h0M1890.6 826h0M1892.3 826h0M1894.1 826h0M1895.8 826h0M1897.4 826h0M1899.1 826h0M1900.8 826h0M1902.5 830.2h0M1904.2 826.2h0M1905.8 825.8h0M1907.5 827.1h0M1909.1 828.1h0M1910.8 827.2h0M1912.4 829.6h0M1914 829.3h0M1915.7 823.8h0M1917.3 829.2h0M1918.9 827.4h0M1920.5 829.8h0M1922.1 829.7h0M1923.7 825.3h0M1925.3 827.7h0M1926.9 826.9h0M1928.5 825.1h0M1930.1 830.2h0M1931.6 829.6h0M1933.2 824.8h0M1934.8 823.8h0M1936.3 825.8h0M1937.9 826.3h0M1939.4 829.2h0M1940.9 828.3h0M1942.5 826.8h0M1944 829.6h0M1945.5 826.8h0M1947 828.6h0M1948.6 831.6h0M1950.1 833.3h0M1951.6 834.2h0M1953.1 829h0M1954.6 829.6h0M1956 830.1h0M1957.5 829.1h0M1959 829.2h0M1960.5 828.8h0M1961.9 828.9h0M1963.4 827.9h0M1964.9 828.9h0M1966.3 829h0M1967.8 829h0M1969.2 829h0M1970.7 828.4h0M1972.1 824.8h0M1973.5 825.8h0M1974.9 829.2h0M1976.4 828.6h0M1977.8 829.4h0M1979.2 829.9h0M1980.6 828.1h0M1982 829.6h0M1983.4 831.6h0M1984.8 828.8h0M1986.2 829.5h0M1987.6 834.2h0M1989 829.4h0M1990.3 832.3h0M1991.7 830.3h0M1993.1 829h0M1994.5 829.6h0M1995.8 828.9h0M1997.2 829.5h0M1998.5 829.2h0M1999.9 828.8h0M2001.2 828.9h0M2002.6 829.1h0M2003.9 827.7h0M2005.2 827.6h0M2006.6 826.8h0M2007.9 826.6h0M2009.2 826h0M2010.5 827h0M2011.9 824.8h0M2013.2 825.5h0M2014.5 827.8h0M2015.8 824.6h0M2017.1 827.5h0M2018.4 828.5h0M2019.7 823.8h0M2020.9 829.2h0M2022.2 828.9h0M2023.5 825.5h0M2024.8 826h0M2026.1 829.8h0M2027.3 830.3h0M2028.6 828.9h0M2029.9 827.8h0M2031.1 829.3h0M2032.4 828h0M2033.6 831h0M2034.9 832.2h0M2036.1 827.3h0M2037.4 830.5h0M2038.6 831.8h0M2039.8 826.9h0M2041.1 827.2h0M2042.3 826.6h0M2043.5 828.4h0M2044.7 837.2h0M2046 828h0M2047.2 826.3h0M2048.4 824.8h0M2049.6 833.5h0M2050.8 832.6h0M2052 831.1h0M2053.2 827.4h0M2054.4 833.2h0M2055.6 829.5h0M2056.8 827.8h0M2058 832.7h0M2059.2 829.4h0M2060.3 827.8h0M2061.5 830.1h0M2062.7 828.6h0M2063.9 832.2h0M2065 828.5h0M2066.2 832.8h0M2067.4 830.4h0M2068.5 830.6h0M2069.7 832.4h0M2070.8 830.6h0M2072 831.2h0M2073.1 831.3h0M2074.3 829.9h0M2075.4 833.2h0M2076.5 832.2h0M2077.7 830h0M2078.8 834.2h0M2079.9 830h0M2081.1 834.7h0M2082.2 831.3h0M2083.3 835.7h0M2084.4 837.2h0M2085.6 829.8h0M2086.7 836.6h0M2087.8 831.4h0M2088.9 833.6h0M2090 831.4h0M2091.1 832.9h0M2092.2 832.7h0M2093.3 832.9h0M2094.4 835.3h0M2095.5 829.8h0M2096.6 836.6h0M2097.7 829.7h0M2098.7 829.7h0M2099.8 828.8h0M2100.9 837.2h0M2102 830.5h0M2103.1 830.9h0M2104.1 834.3h0M2105.2 833.8h0M2106.3 833.2h0M2107.3 833.4h0M2108.4 826.6h0M2109.4 832.5h0M2110.5 835.2h0M2111.6 824.8h0M2112.6 826.2h0M2113.7 830.8h0M2114.7 829.7h0M2115.7 834.5h0M2116.8 834.4h0M2117.8 836.5h0M2118.9 835.7h0M2119.9 838.2h0M2120.9 825.5h0M2122 823.8h0M2123 837.7h0M2124 832.6h0M2125 838.2h0M2126.1 831.1h0M2127.1 833.9h0M2128.1 827.2h0M2129.1 837.7h0M2130.1 840.8h0M2131.1 837.8h0M2132.1 827.7h0M2133.1 831.2h0M2134.1 838.6h0M2135.1 827.8h0M2136.1 836.2h0M2137.1 834.8h0M2138.1 836.8h0M2139.1 828.4h0M2140.1 837.2h0M2141.1 829.1h0M2142.1 826.8h0M2143.1 830.1h0M2144 836.1h0M2145 838.2h0M2146 829.1h0M2147 831.9h0M2147.9 838.7h0M2148.9 830.1h0M2149.9 829.8h0M2150.8 840.8h0M2151.8 840.2h0M2152.8 833.7h0M2153.7 839.8h0M2154.7 832.1h0M2155.6 835.9h0M2156.6 832.4h0M2157.5 834.4h0M2158.5 831.7h0M2159.4 841.2h0M2160.4 829.8h0M2161.3 834h0M2162.3 838.2h0M2163.2 840.7h0M2164.2 841.2h0M2165.1 828h0M2166 840.3h0M2167 835.8h0M2167.9 838.4h0M2168.8 830.2h0M2169.7 832.3h0M2170.7 844.4h0M2171.6 820.8h0M2172.5 836.3h0M2173.4 827h0M2174.3 824.1h0M2175.3 821h0M2176.2 835.2h0M2177.1 820.5h0M2178 839.2h0M2178.9 819.2h0M2179.8 836.6h0M2180.7 831.2h0M2181.6 820.3h0M2182.5 818.9h0M2183.4 836.2h0M2184.3 837.2h0M2185.2 815.1h0M2186.1 819.7h0M2187 826.5h0M2187.9 836.1h0M2188.8 831.8h0M2189.6 839.3h0M2190.5 835.6h0M2191.4 833.1h0M2192.3 843.2h0M2193.2 820.8h0M2194.1 835.4h0M2194.9 840.6h0M2195.8 839.6h0M2196.7 829.5h0M2197.5 837.1h0M2198.4 844.7h0M2199.3 827.9h0M2200.1 834.8h0M2201 827.5h0M2201.9 826.5h0M2202.7 834.3h0M2203.6 852h0M2204.5 834.3h0M2205.3 826.4h0M2206.2 825.6h0M2207 830.7h0M2207.9 837.7h0M2208.7 845.1h0M2209.6 824.9h0M2210.4 836.7h0M2211.3 843.2h0M2212.1 820.8h0M2212.9 841.4h0M2213.8 834.4h0M2214.6 820.4h0M2215.5 823h0M2216.3 823.2h0M2217.1 823.8h0M2218 835.5h0M2218.8 837.3h0M2219.6 824.2h0M2220.4 837.8h0M2221.3 839.2h0M2222.1 826.5h0M2222.9 825.6h0M2223.7 839.5h0M2224.6 841h0M2225.4 811.4h0M2226.2 841.5h0M2227 823.2h0M2227.8 838.5h0M2228.6 825.7h0M2229.5 821.6h0M2230.3 849.2h0M2231.1 832.2h0M2231.9 846.3h0M2232.7 842h0M2233.5 821.4h0M2234.3 846.5h0M2235.1 820.8h0M2235.9 838.4h0M2236.7 836.5h0M2237.5 827.2h0M2238.3 857.4h0M2239.1 824.9h0M2239.9 854.3h0M2240.7 828.4h0M2241.5 836.5h0M2242.2 826.7h0M2243 850.8h0M2243.8 832.3h0M2244.6 827.2h0M2245.4 833.2h0M2246.2 849.6h0M2246.9 851.2h0M2247.7 828.4h0M2248.5 848.8h0M2249.3 830.5h0M2250.1 848.7h0M2250.8 828.6h0M2251.6 831.9h0M2252.4 833.6h0M2253.1 830.6h0M2253.9 835.9h0M2254.7 839.1h0M2255.4 844.9h0M2256.2 837.7h0M2257 831.8h0M2257.7 848.2h0M2258.5 832.9h0M2259.3 846.3h0M2260 831.8h0M2260.8 835.6h0M2261.5 848.4h0M2262.3 834.7h0M2263 847.9h0M2263.8 847.6h0M2264.5 849.5h0M2265.3 838.4h0M2266 851.2h0M2266.8 835h0M2267.5 850.5h0M2268.3 836.7h0M2269 837.7h0M2269.8 841.8h0M2270.5 835.1h0M2271.2 837.4h0M2272 840.2h0M2272.7 850.8h0M2273.5 836.6h0M2274.2 847.1h0M2274.9 853.2h0M2275.7 842.6h0M2276.4 834.1h0M2277.1 845.1h0M2277.8 834.1h0M2278.6 851.6h0M2279.3 847.2h0M2280 830.8h0M2280.7 838.2h0M2281.5 832.5h0M2282.2 849.6h0M2282.9 832h0M2283.6 831.7h0M2284.4 853.2h0M2285.1 850.8h0M2285.8 836.9h0M2286.5 827.5h0M2287.2 835.2h0M2287.9 824.8h0M2288.6 839.4h0M2289.3 829.1h0M2290.1 839.1h0M2290.8 838.7h0M2291.5 836.6h0M2292.2 855.2h0M2292.9 830.1h0M2293.6 829.3h0M2294.3 848.3h0M2295 836.3h0M2295.7 829.9h0M2296.4 832.5h0M2297.1 826.8h0M2297.8 828.3h0M2298.5 849.5h0M2299.2 838.3h0M2299.9 851.2h0M2300.6 847.3h0M2301.3 837.8h0M2302 825.7h0M2302.6 828.4h0M2303.3 848.9h0M2304 845.9h0M2304.7 841.9h0M2305.4 824.7h0M2306.1 838.1h0M2306.8 847.8h0M2307.4 821.1h0M2308.1 845.5h0M2308.8 849.2h0M2309.5 851.2h0M2310.2 821.2h0M2310.8 824.4h0M2311.5 825.5h0M2312.2 850.6h0M2312.9 833.2h0M2313.5 829.5h0M2314.2 816.8h0M2314.9 840.2h0M2315.6 855.9h0M2316.2 859.2h0M2316.9 851.8h0M2317.6 825h0M2318.2 841.9h0M2318.9 823.2h0M2319.6 851.7h0M2320.2 814.8h0M2320.9 847.5h0M2321.5 844.7h0M2322.2 871.2h0M2322.9 851.6h0M2323.5 833h0M2324.2 854.3h0M2324.8 830h0M2325.5 866.3h0M2326.1 824.9h0M2326.8 820.8h0M2327.5 870.7h0M2328.1 827.7h0M2328.8 874.6h0M2329.4 836.5h0M2330.1 869.2h0M2330.7 835.5h0M2331.4 834.4h0M2332 842.1h0M2332.6 831.2h0M2333.3 832.1h0M2333.9 842.8h0M2334.6 833.9h0M2335.2 831.8h0M2335.9 867.2h0M2336.5 847h0M2337.1 846.7h0M2337.8 831.1h0M2338.4 839.8h0M2339.1 839.9h0M2339.7 839.3h0M2340.3 828.3h0M2341 849.4h0M2341.6 832.1h0M2342.2 837.8h0M2342.9 822.8h0M2343.5 850.3h0M2344.1 861.2h0M2344.7 859.8h0M2345.4 851.2h0M2346 853.3h0M2346.6 861.1h0M2347.2 843.5h0M2347.9 851.9h0M2348.5 822.9h0M2349.1 826.9h0M2349.7 832.6h0M2350.4 823.9h0M2351 869.2h0M2351.6 817.8h0M2352.2 836.8h0M2352.8 862.6h0M2353.4 822.5h0M2354.1 851.8h0M2354.7 825h0M2355.3 864.5h0M2355.9 870.9h0M2356.5 839.5h0M2357.1 835.7h0M2357.7 822.8h0M2358.4 827.2h0M2359 878.9h0M2359.6 838.6h0M2360.2 828.7h0M2360.8 829.4h0M2361.4 874.3h0M2362 838.6h0M2362.6 838.5h0M2363.2 839.8h0M2363.8 881.2h0M2364.4 853.4h0M2365 851.4h0M2365.6 831.8h0M2366.2 884.1h0M2366.8 870.7h0M2367.4 876.3h0M2368 842.5h0M2368.6 889.5h0M2369.2 898.2h0M2369.8 899.1h0M2370.4 834.8h0M2371 898.2h0M2372.3 962h0M2372.3 992.1h0M2371.3 1125h0M2372.2 1140.2h0M2372.7 1124.8h0M2373.3 1129.1h0M2373.9 1135.9h0M2374.5 1131h0M2375.1 1127.7h0M2375.7 1133.4h0M2376.3 1128h0M2376.9 1124.8h0M2377.4 1121.3h0M2378 1116.5h0M2378.6 1106.8h0M2379.2 1098.8h0M2379.8 1130h0M2380.4 1115.3h0M2380.9 1096.6h0M2381.5 1093.3h0M2382.1 1081.8h0M2382.7 1088.1h0M2383.2 1088.5h0M2383.8 1107.2h0M2384.4 1080.6h0M2385 1136.4h0M2385.5 1113h0M2386.1 1082.8h0M2386.7 1101.7h0M2387.3 1116.8h0M2387.8 1130.5h0M2388.4 1136.2h0M2389 1118.9h0M2389.5 1123.6h0M2390.1 1137h0M2390.7 1138.7h0M2391.3 1119h0M2391.8 1126h0M2392.4 1138.2h0M2392.9 1118.2h0M2393.5 1125.7h0M2394.1 1121h0M2394.6 1120.1h0M2395.2 1135.6h0M2395.8 1127.8h0M2396.3 1137.3h0M2396.9 1124.9h0M2397.4 1130.6h0M2398 1120.4h0M2398.6 1138.1h0M2399.1 1136.7h0M2399.7 1132.1h0M2400.2 1138.8h0M2400.8 1131.5h0M2401.3 1118.3h0M2401.9 1119.1h0M2402.4 1137.2h0M2403 1119.6h0M2403.5 1136.3h0M2404.1 1136h0M2404.6 1124.2h0M2405.2 1134.7h0M2405.7 1136.8h0M2406.3 1138.4h0M2406.8 1137.2h0M2407.4 1137h0M2407.9 1118.6h0M2408.5 1138.7h0M2409 1127.2h0M2409.6 1136.6h0M2410.1 1121.9h0M2410.7 1138.8h0M2411.2 1116.8h0M2411.7 1113.8h0M2412.3 1137.7h0M2412.8 1090.8h0M2413.4 1126.7h0M2413.9 1116.2h0M2414.4 1106.2h0M2415 1136.4h0M2415.5 1093.8h0M2416.1 1129.4h0M2416.6 1087.8h0M2417.1 1135.1h0M2417.7 1136.2h0M2418.2 1133.2h0M2418.7 1140.2h0M2419.3 1098.8h0M2419.8 1091.8h0M2420.3 1140.5h0" fill="none" stroke="#1b75bc" stroke-width="17.6" stroke-linecap="round"/>
</g>
<g id="coherence">
<path d="M343.6 1513.6L370.4 1520.4L416.7 1557L460 1542.5L499.5 1498.2L535.1 1468.4L567.8 1454.5L600.6 1446.8L629.5 1450.5L654.5 1446.2L682.4 1439.5L704.6 1435.5L1920 1435.5L1954.7 1435.4L1957.3 1440.2L1960.2 1435.4L2005.2 1435.4L2012.4 1443.3L2010.3 1466.4L2016.1 1441.9L2021.8 1443.3L2028.3 1435.4L2042.8 1435.4L2047.8 1443.3L2048.6 1450.6L2053.6 1462.8L2054.6 1452L2056.5 1462.8L2062.3 1455.6L2064.4 1441.9L2068.8 1435.4L2073.1 1435.4L2078.9 1443.3L2089 1443.3L2090.4 1435.4L2094.1 1439L2099.1 1457.8L2102.3 1440.4L2107.8 1439.7L2111 1454.9L2121.5 1434.7L2128 1440.4L2132.3 1440.4L2136.7 1450.6L2141 1452L2143.2 1466.4L2148.2 1438.3L2151.1 1443.3L2155.4 1438.3L2164.1 1447.7L2162.7 1439.7L2168.4 1440.4L2172.8 1446.2L2172.1 1469.3L2177.1 1463.6L2178.6 1457.8L2191.6 1440.4L2194.4 1437.6L2180 1452.6L2191.8 1437.2L2193.6 1455.3L2198.1 1442.6L2203.1 1527L2204.5 1451.7L2207.2 1460.8L2210.8 1471.7L2214.9 1425.4L2219 1448.1L2222.6 1549.6L2225.3 1440.8L2229.9 1440.8L2233.5 1455.3L2230.8 1504.3L2234.4 1468.9L2238 1549.6L2240.7 1473.5L2243.5 1473.5L2247.1 1500.7L2249.8 1500.7L2252.5 1466.2L2255.2 1440.8L2258.9 1457.1L2259.8 1530.6L2263.4 1553.7L2264.3 1468L2261.6 1449.9L2267.9 1468L2268.8 1435.4L2275.2 1449.9L2277.5 1527.4L2281.5 1447.2L2284.3 1455.3L2288.8 1549.6L2292.4 1448.1L2295.6 1436.3L2298.8 1439.9L2300 1452L2304.5 1490L2309.5 1500L2310 1640L2313.5 1712L2313.8 1580L2316.5 1499L2317.8 1656L2319.5 1540L2324.6 1452L2325.5 1606L2327.6 1600L2328.2 1452L2330.4 1447L2330.6 1476L2333 1483L2341 1483L2336.2 1488L2336.4 1612L2339 1500L2342.4 1619L2342.6 1490L2349.4 1470L2349.5 1486L2352 1484L2356 1506L2354.5 1604L2357.5 1510L2360.4 1671L2360.6 1540L2364 1537L2364.5 1580L2367.5 1741L2368 1600L2371.2 1759L2374.3 1455L2377 1460L2380 1470L2382.6 1492L2385.8 1675L2380 1701L2386 1560L2387 1463L2390 1463L2391.5 1500L2393 1537L2394.8 1460L2396 1472L2398.5 1530L2401 1474L2401.2 1500L2403.7 1645L2405 1505L2408.4 1586L2410 1541L2412.5 1545L2408.3 1434L2416.2 1462L2418.3 1737.5L2419.5 1512L2420.6 1568" fill="none" stroke="#1b75bc" stroke-width="5.2" stroke-linejoin="miter" stroke-miterlimit="3"/>
<line x1="343.8" y1="1568.8" x2="2423.4" y2="1568.8" stroke="#ec2227" stroke-width="6.2"/>
</g>
<g id="frame" fill="#231f20">
<rect x="0" y="0" width="2462" height="6"/>
<rect x="0" y="2085" width="2462" height="6"/>
<rect x="0" y="0" width="5" height="2091"/>
<rect x="2456" y="0" width="6" height="2091"/>
</g>
<g id="labels">
<text transform="translate(0 115.2) scale(0.9700 1)" x="371.86 400.00 445.91 472.63 505.84 536.91 568.76 613.74 640.93 684.55" y="-3 0 0 0 -3 -3 0 0 0 -3" font-size="84" font-weight="normal">(1/s)(q/θ)</text>
<text transform="translate(0 175.3)" x="197.03 238.00" y="0" font-size="84.2" font-weight="normal">10</text>
<text transform="translate(0 299.4)" x="238.00" y="0" font-size="84.2" font-weight="normal">0</text>
<text transform="translate(0 440.7)" x="167.79 193.33 233.95" y="0" font-size="84.2" font-weight="normal">-10</text>
<text transform="translate(0 572.7)" x="174.79 201.37 240.75" y="0" font-size="84.2" font-weight="normal">-20</text>
<text transform="translate(0 774.6)" x="154.23 194.60 235.05" y="0" font-size="84.2" font-weight="normal">100</text>
<text transform="translate(0 852.1)" x="227.55" y="0" font-size="84.2" font-weight="normal">0</text>
<text transform="translate(0 922.3)" x="132.14 157.63 198.15 237.95" y="0" font-size="84.2" font-weight="normal">-100</text>
<text transform="translate(0 999.9)" x="132.14 158.27 198.15 237.95" y="0" font-size="84.2" font-weight="normal">-200</text>
<text transform="translate(0 1080.6)" x="132.14 157.48 198.15 237.95" y="0" font-size="84.2" font-weight="normal">-300</text>
<text transform="translate(0 1161.1)" x="132.14 158.34 198.15 237.95" y="0" font-size="84.2" font-weight="normal">-400</text>
<text transform="translate(0 1404.6)" x="165.48 205.42 228.37" y="0" font-size="84.2" font-weight="normal">1.2</text>
<text transform="translate(0 1503.7)" x="166.35 205.42 228.27" y="0" font-size="84.2" font-weight="normal">0.9</text>
<text transform="translate(0 1602.8)" x="166.35 205.42 227.69" y="0" font-size="84.2" font-weight="normal">0.6</text>
<text transform="translate(0 1702.8)" x="166.35 205.42 227.18" y="0" font-size="84.2" font-weight="normal">0.3</text>
<text transform="translate(0 1803.8)" x="216.65" y="0" font-size="84.2" font-weight="normal">0</text>
<text transform="translate(0 1890.9)" x="297.73 337.60" y="0" font-size="84.2" font-weight="normal">10</text>
<text transform="translate(0 1866.5)" x="378.14" y="0" font-size="48" font-weight="normal">−</text>
<text transform="translate(0 1862.3)" x="404.33" y="0" font-size="48" font-weight="normal">1</text>
<text transform="translate(0 1899.4)" x="1323.48 1363.40" y="0" font-size="84.2" font-weight="normal">10</text>
<text transform="translate(0 1868.5)" x="1405.00" y="0" font-size="48" font-weight="normal">0</text>
<text transform="translate(0 1890.9)" x="2317.78 2358.10" y="0" font-size="84.2" font-weight="normal">10</text>
<text transform="translate(0 1862.3)" x="2399.08" y="0" font-size="48" font-weight="normal">1</text>
<text transform="translate(0 2039.1) scale(0.9500 1)" x="1041.29 1097.44 1140.24 1184.64 1241.47 1296.98 1342.58 1398.93 1442.62 1492.02 1515.72 1548.44 1590.19 1638.18 1697.15 1728.70 1767.54" y="0" font-size="98.8" font-weight="bold">Frequency [rad/s]</text>
<text transform="translate(113.3 0) rotate(-90)" x="-665.55 -576.25 -530.43 -480.55 -425.18 -393.69 -361.29 -308.72 -252.65 -210.84 -185.58 -156.07 -102.64 -42.94" y="0" font-size="94.2" font-weight="bold">Magnitude [dB]</text>
<text transform="translate(113.3 0) rotate(-90)" x="-1129.09 -1068.90 -1013.85 -969.11 -932.85 -891.04 -865.43 -833.82 -798.54" y="0" font-size="94.2" font-weight="bold">Phase [º]</text>
<text transform="translate(113.3 0) rotate(-90) scale(1.0400 1)" x="-1738.30 -1676.05 -1628.00 -1574.52 -1536.01 -1496.78 -1456.75 -1402.93 -1364.33" y="0" font-size="94.2" font-weight="bold">Coherence</text>
</g>
</svg>
</body>
</html>
